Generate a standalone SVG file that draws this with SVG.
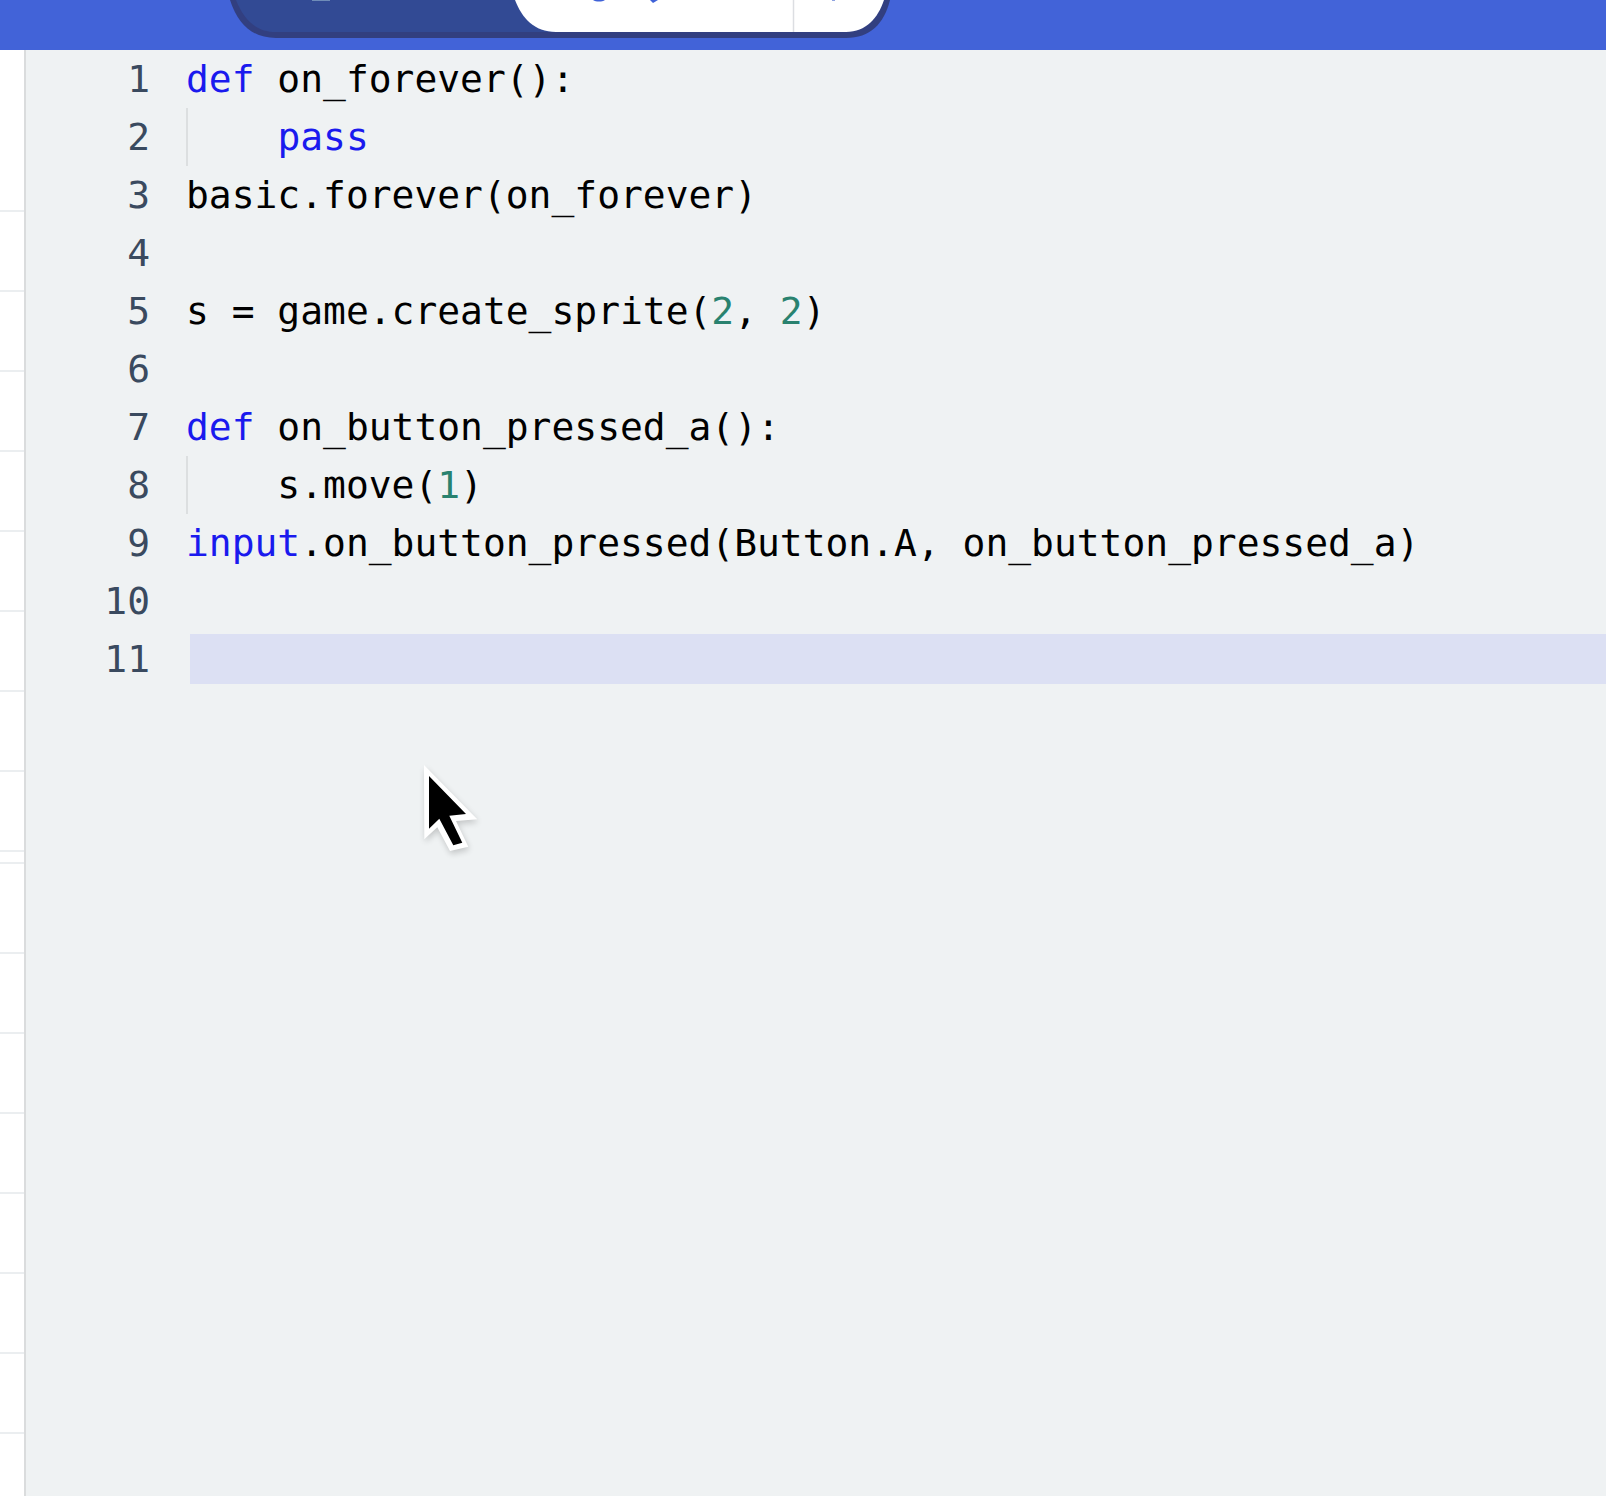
<svg xmlns="http://www.w3.org/2000/svg" width="1606" height="1496" viewBox="0 0 1606 1496">
  <style>
    text { font-family: "DejaVu Sans Mono", "Liberation Mono", monospace; font-size: 37.95px; white-space: pre; }
    .code { fill: #000000; }
    .num { fill: #3a4a5f; text-anchor: end; }
    .kw { fill: #1a1aee; }
    .lit { fill: #29826f; }
    .rule { stroke: #ebeef0; stroke-width: 2; }
    .guide { stroke: #d6d8da; stroke-width: 1.5; }
  </style>
  <defs>
    <filter id="cursorShadow" x="-30%" y="-30%" width="170%" height="170%">
      <feGaussianBlur stdDeviation="3"/>
    </filter>
  </defs>

  <g id="side-pane">
    <rect x="0" y="50" width="24" height="1446" fill="#ffffff"/>
    <g class="rules">
      <line class="rule" x1="0" x2="24" y1="211" y2="211"/>
      <line class="rule" x1="0" x2="24" y1="291" y2="291"/>
      <line class="rule" x1="0" x2="24" y1="371" y2="371"/>
      <line class="rule" x1="0" x2="24" y1="451" y2="451"/>
      <line class="rule" x1="0" x2="24" y1="531" y2="531"/>
      <line class="rule" x1="0" x2="24" y1="611" y2="611"/>
      <line class="rule" x1="0" x2="24" y1="691" y2="691"/>
      <line class="rule" x1="0" x2="24" y1="771" y2="771"/>
      <line class="rule" x1="0" x2="24" y1="851" y2="851"/>
      <line class="rule" x1="0" x2="24" y1="863" y2="863"/>
      <line class="rule" x1="0" x2="24" y1="953" y2="953"/>
      <line class="rule" x1="0" x2="24" y1="1033" y2="1033"/>
      <line class="rule" x1="0" x2="24" y1="1113" y2="1113"/>
      <line class="rule" x1="0" x2="24" y1="1193" y2="1193"/>
      <line class="rule" x1="0" x2="24" y1="1273" y2="1273"/>
      <line class="rule" x1="0" x2="24" y1="1353" y2="1353"/>
      <line class="rule" x1="0" x2="24" y1="1433" y2="1433"/>
    </g>
  </g>

  <g id="editor">
    <rect x="24" y="50" width="1582" height="1446" fill="#eff2f3"/>
    <rect x="24" y="50" width="2" height="1446" fill="#dadcdd"/>
    <rect id="current-line" x="190" y="634" width="1416" height="50" fill="#dce0f3"/>
    <line class="guide" x1="187" x2="187" y1="108" y2="166"/>
    <line class="guide" x1="187" x2="187" y1="456" y2="514"/>
  </g>

  <g id="header">
    <rect x="0" y="0" width="1606" height="50" fill="#4263d8"/>
    <path d="M230 0 C238 24 252 38 276 38 H846 C870 38 884 24 890 0 Z" fill="#323f80"/>
    <path d="M236 0 C244 20 256 32 276 32 H600 V0 Z" fill="#324a94"/>
    <rect x="312" y="0" width="18" height="1" fill="#6f8cb8"/>
    <path d="M515 0 C522 18 534 32 556 32 H846 C866 32 878 18 884 0 Z" fill="#ffffff"/>
    <line x1="793.500" x2="793.500" y1="0" y2="32" stroke="#dcdee2" stroke-width="1.500"/>
    <path d="M593 0 C596 2 602 2 605 0 Z" fill="#3f62d8"/>
    <path d="M650 0 L658 0 L653 3 Z" fill="#3f62d8"/>
    <rect x="832" y="0" width="3" height="1" fill="#8fa3e0"/>
  </g>

  <g id="line-numbers">
    <text class="num" x="150" y="91.500">1</text>
    <text class="num" x="150" y="149.500">2</text>
    <text class="num" x="150" y="207.500">3</text>
    <text class="num" x="150" y="265.500">4</text>
    <text class="num" x="150" y="323.500">5</text>
    <text class="num" x="150" y="381.500">6</text>
    <text class="num" x="150" y="439.500">7</text>
    <text class="num" x="150" y="497.500">8</text>
    <text class="num" x="150" y="555.500">9</text>
    <text class="num" x="150" y="613.500">10</text>
    <text class="num" x="150" y="671.500">11</text>
  </g>

  <g id="code">
    <text class="code" x="186" y="91.500"><tspan class="kw">def</tspan> on_forever():</text>
    <text class="code" x="186" y="149.500">    <tspan class="kw">pass</tspan></text>
    <text class="code" x="186" y="207.500">basic.forever(on_forever)</text>
    <text class="code" x="186" y="323.500">s = game.create_sprite(<tspan class="lit">2</tspan>, <tspan class="lit">2</tspan>)</text>
    <text class="code" x="186" y="439.500"><tspan class="kw">def</tspan> on_button_pressed_a():</text>
    <text class="code" x="186" y="497.500">    s.move(<tspan class="lit">1</tspan>)</text>
    <text class="code" x="186" y="555.500"><tspan class="kw">input</tspan>.on_button_pressed(Button.A, on_button_pressed_a)</text>
  </g>

  <g id="cursor">
    <path d="M424 765 L477.300 819.300 L456 821 L468.300 846.700 L450 851 L437.300 827.300 L424.300 839.300 Z" fill="#000000" opacity="0.18" transform="translate(1 3)" filter="url(#cursorShadow)"/>
    <path d="M424 765 L477.300 819.300 L456 821 L468.300 846.700 L450 851 L437.300 827.300 L424.300 839.300 Z" fill="#ffffff"/>
    <path d="M429 776 L466 814 L449.300 815.700 L462.300 842.700 L453.300 845.300 L439.300 818.700 L429 828.700 Z" fill="#000000"/>
  </g>
</svg>
